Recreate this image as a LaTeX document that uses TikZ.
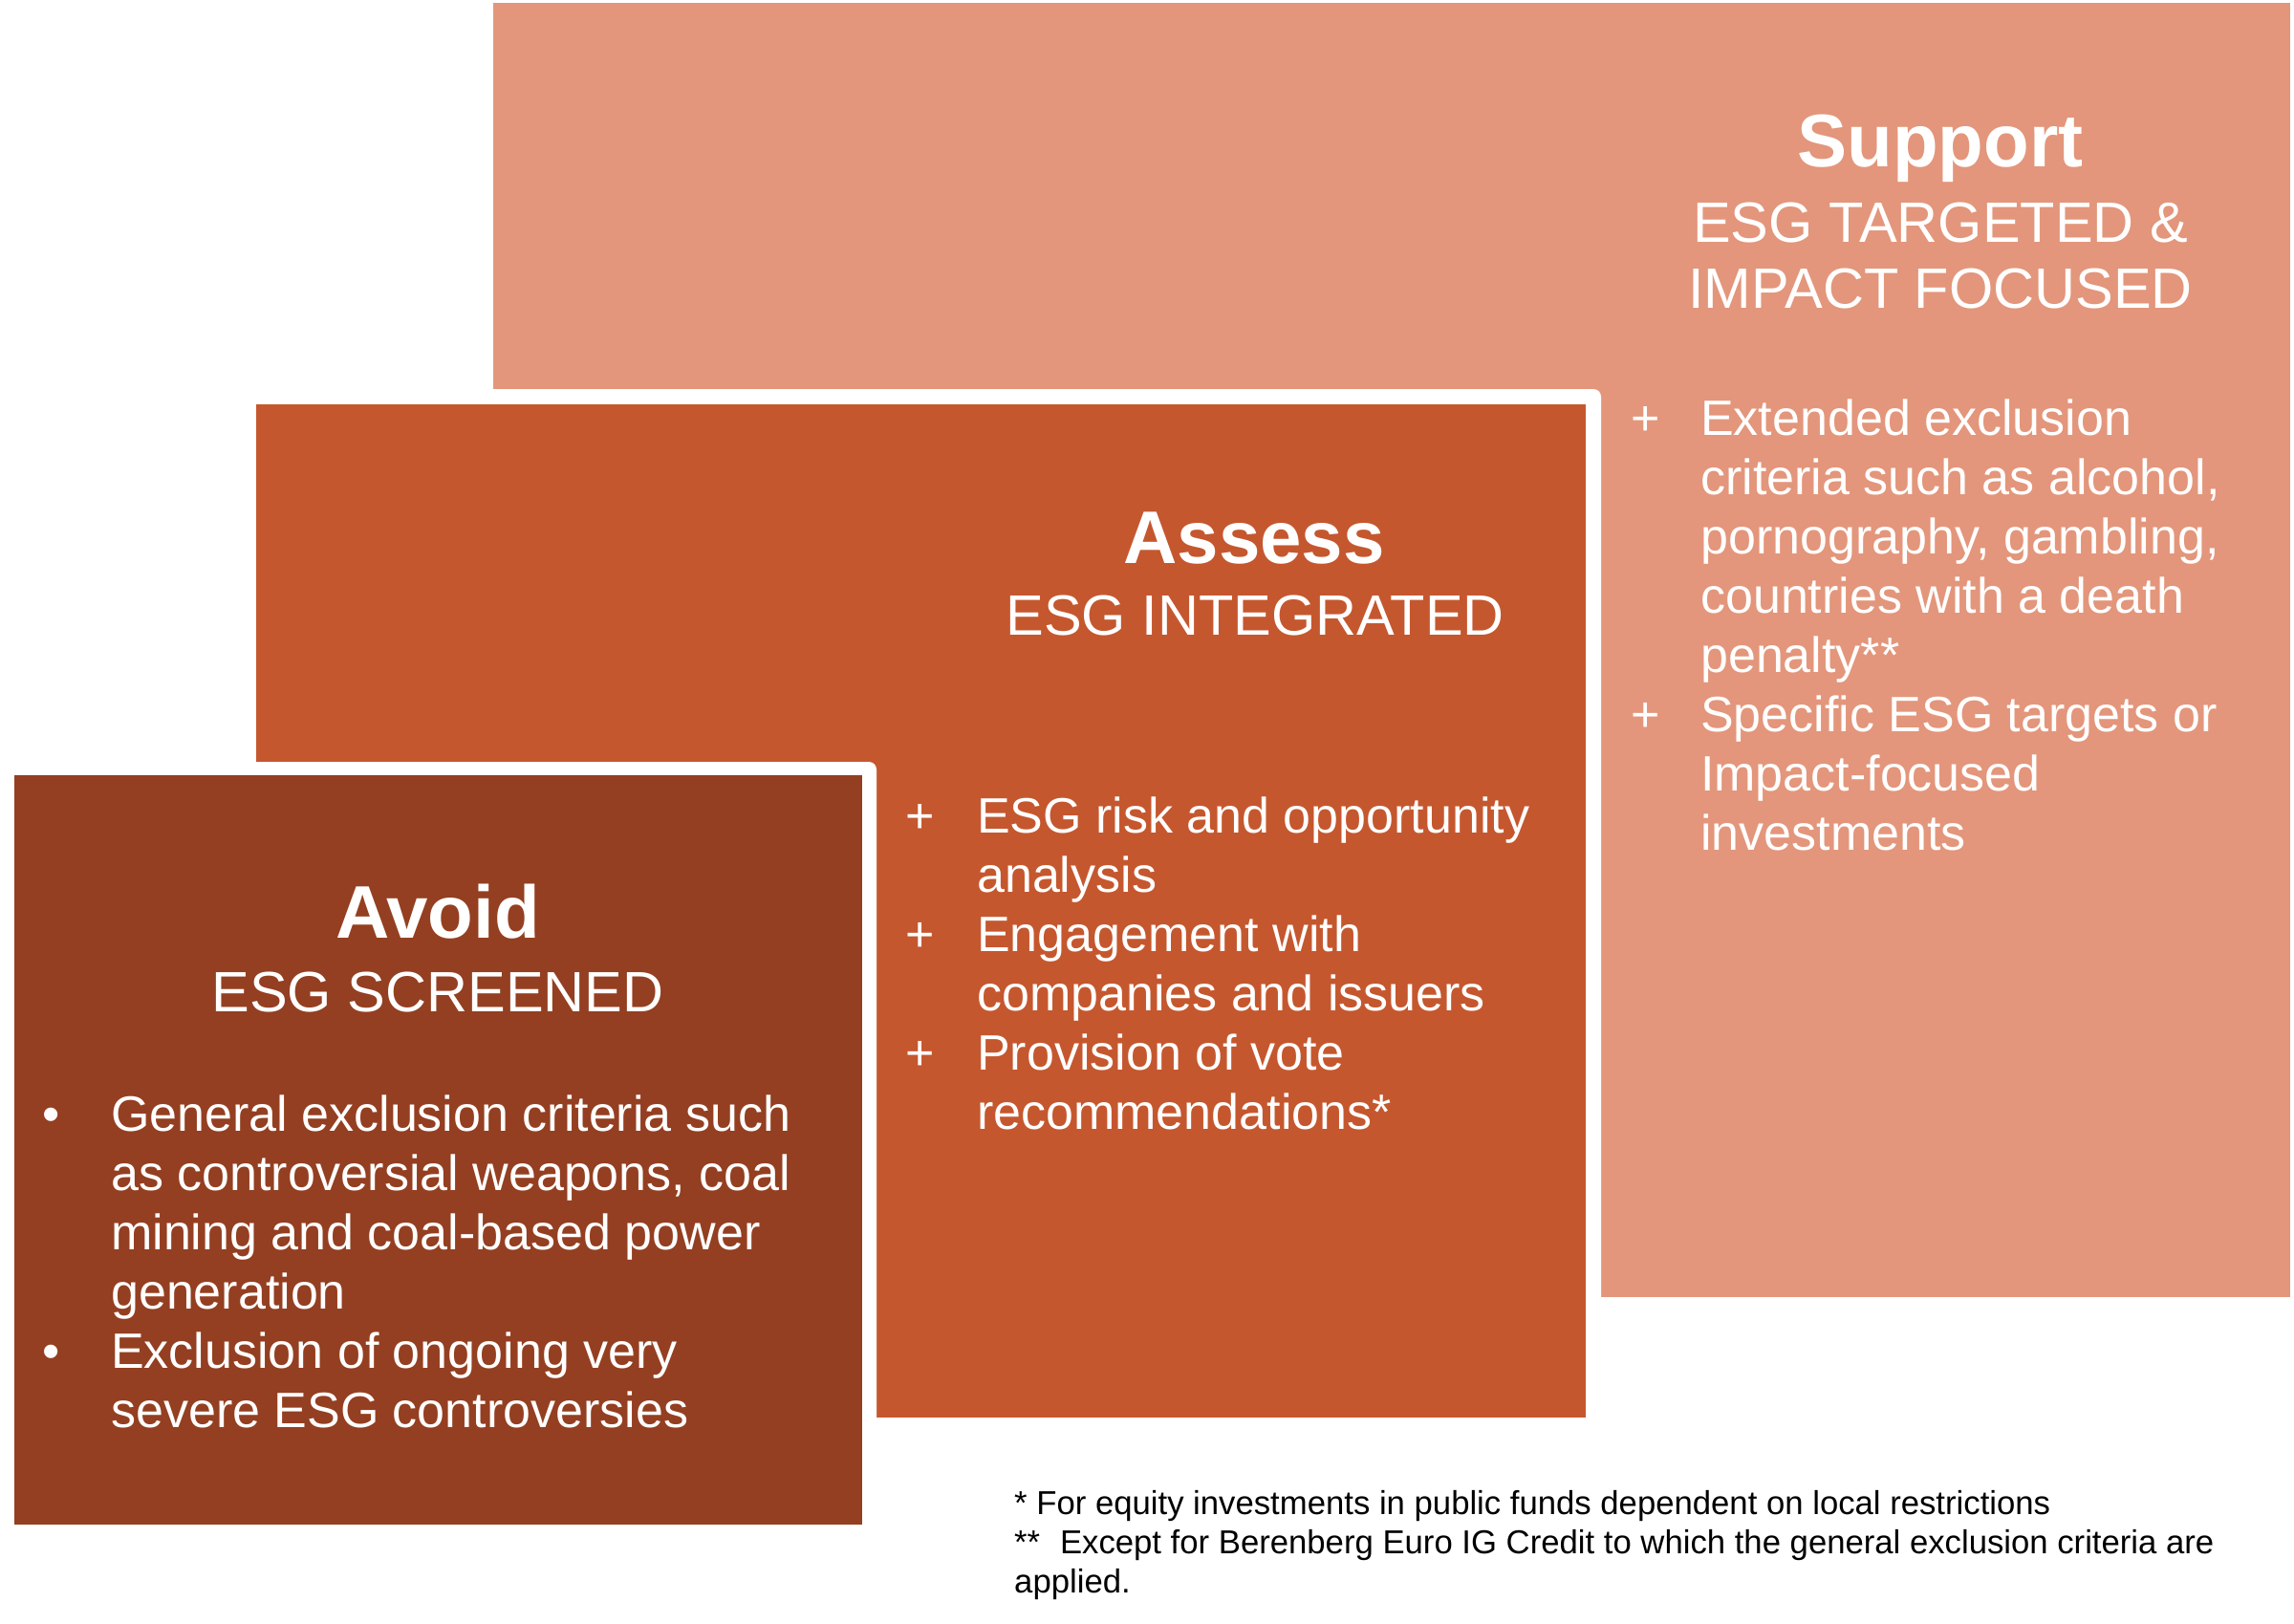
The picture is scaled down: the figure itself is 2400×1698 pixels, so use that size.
\documentclass[tikz,border=0pt]{standalone}
\usepackage{fontspec}
\setmainfont{Liberation Sans}
\definecolor{supportfill}{HTML}{E3967B}
\definecolor{assessfill}{HTML}{C5572E}
\definecolor{avoidfill}{HTML}{943F21}

\begin{document}
\begin{tikzpicture}
  [x=1pt,y=-1pt,
   title/.style={text=white,font=\fontsize{78}{94}\selectfont\bfseries,anchor=base,inner sep=0},
   subtitle/.style={text=white,font=\fontsize{59.5}{69}\selectfont,anchor=base,align=center,inner sep=0},
   item/.style={text=white,font=\fontsize{52}{62}\selectfont,anchor=base west,align=left,inner sep=0},
   plusmark/.style={text=white,font=\fontsize{52}{62}\selectfont,anchor=base,inner sep=0},
   frame/.style={fill=white,rounded corners=8pt},
   note/.style={font=\fontsize{34.7}{41}\selectfont,anchor=base west,align=left,inner sep=0}]
  \useasboundingbox (0,0) rectangle (2400,1698);

  % boxes, back to front
  \fill[supportfill] (516,3) rectangle (2396,1357);
  \fill[frame] (252,407) rectangle (1675,1499);
  \fill[assessfill] (268,423) rectangle (1659,1483);
  \fill[frame] (0,797) rectangle (917,1610);
  \fill[avoidfill] (15,811) rectangle (902,1595);

  % support (multi-line nodes sit on their last baseline)
  \node[title] (support) at (2030,174) {Support};
  \node[subtitle] (supportsub) at (2030,322) {ESG TARGETED \&\\IMPACT FOCUSED};
  \node[plusmark] (sp1) at (1722,455) {+};
  \node[item] (st1) at (1779,703) {Extended exclusion\\criteria such as alcohol,\\pornography, gambling,\\countries with a death\\penalty**};
  \node[plusmark] (sp2) at (1722,765) {+};
  \node[item] (st2) at (1779,889) {Specific ESG targets or\\Impact-focused\\investments};

  % assess
  \node[title] (assess) at (1312,589) {Assess};
  \node[subtitle] (assesssub) at (1313,664) {ESG INTEGRATED};
  \node[plusmark] (ap1) at (963,871) {+};
  \node[item] (at1) at (1022,933) {ESG risk and opportunity\\analysis};
  \node[plusmark] (ap2) at (963,995) {+};
  \node[item] (at2) at (1022,1057) {Engagement with\\companies and issuers};
  \node[plusmark] (ap3) at (963,1119) {+};
  \node[item] (at3) at (1022,1181) {Provision of vote\\recommendations*};

  % avoid
  \node[title] (avoid) at (458,981) {Avoid};
  \node[subtitle] (avoidsub) at (458,1058) {ESG SCREENED};
  \node[plusmark] (vp1) at (54,1183) {•};
  \node[item] (vt1) at (116,1369) {General exclusion criteria such\\as controversial weapons, coal\\mining and coal-based power\\generation};
  \node[plusmark] (vp2) at (54,1431) {•};
  \node[item] (vt2) at (116,1493) {Exclusion of ongoing very\\severe ESG controversies};

  % footnotes
  \node[note] (fn) at (1061,1666) {* For equity investments in public funds dependent on local restrictions\\**\hspace{0.6em}Except for Berenberg Euro IG Credit to which the general exclusion criteria are\\applied.};
\end{tikzpicture}
\end{document}
